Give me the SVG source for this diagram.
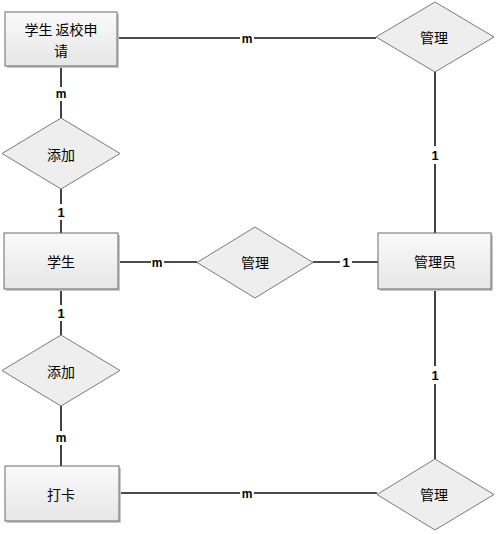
<svg xmlns="http://www.w3.org/2000/svg" width="499" height="534" viewBox="0 0 499 534">
<defs>
<linearGradient id="g" x1="0" y1="0" x2="0" y2="1">
<stop offset="0" stop-color="#fafafa"/><stop offset="1" stop-color="#e6e6e6"/>
</linearGradient>
<style>
.box{fill:url(#g);stroke:#6a6a6a;stroke-width:1}
.sh{fill:#c8c8c8}
.dia{fill:#eeeeee;stroke:#7a7a7a;stroke-width:1}
.t{font-family:"Noto Sans CJK SC","Noto Sans",sans-serif;font-size:14px;fill:#000;text-anchor:middle;dominant-baseline:central}
.ln{stroke:#111;stroke-width:1.6;fill:none}
.lb{font-family:"Liberation Sans",Arial,sans-serif;font-size:13px;font-weight:bold;fill:#000;text-anchor:middle;dominant-baseline:central}
.lm{font-family:"Liberation Sans",Arial,sans-serif;font-size:12px;font-weight:bold;fill:#000;text-anchor:middle;dominant-baseline:central}
.lbg{fill:#fff}
</style>
</defs>
<rect width="499" height="534" fill="#fff"/>
<g id="connectors">
<line class="ln" x1="117" y1="38" x2="376" y2="38"/>
<line class="ln" x1="61" y1="66" x2="61" y2="118"/>
<line class="ln" x1="61" y1="189" x2="61" y2="233"/>
<line class="ln" x1="435" y1="72" x2="435" y2="233"/>
<line class="ln" x1="118" y1="262" x2="197" y2="262"/>
<line class="ln" x1="313" y1="262" x2="378" y2="262"/>
<line class="ln" x1="61" y1="289" x2="61" y2="335"/>
<line class="ln" x1="61" y1="406" x2="61" y2="466"/>
<line class="ln" x1="435" y1="289" x2="435" y2="459"/>
<line class="ln" x1="119" y1="493" x2="377" y2="493"/>
<rect class="lbg" x="240" y="33" width="14" height="11"/><text class="lm" x="247" y="39">m</text>
<rect class="lbg" x="54" y="87" width="14" height="14"/><text class="lm" x="61" y="94">m</text>
<rect class="lbg" x="54" y="204" width="14" height="16"/><text class="lb" x="61" y="212">1</text>
<rect class="lbg" x="428" y="146" width="14" height="18"/><text class="lb" x="435" y="155">1</text>
<rect class="lbg" x="151" y="257" width="13" height="10"/><text class="lm" x="157" y="263">m</text>
<rect class="lbg" x="340" y="255" width="12" height="14"/><text class="lb" x="346" y="262">1</text>
<rect class="lbg" x="54" y="305" width="14" height="16"/><text class="lb" x="61" y="313">1</text>
<rect class="lbg" x="428" y="366" width="14" height="18"/><text class="lb" x="435" y="375">1</text>
<rect class="lbg" x="54" y="431" width="14" height="14"/><text class="lm" x="61" y="438">m</text>
<rect class="lbg" x="240" y="488" width="14" height="11"/><text class="lm" x="247" y="494">m</text>
</g>
<g id="n_apply">
<rect class="sh" x="7" y="14" width="112" height="54"/>
<rect class="box" x="5" y="12" width="112" height="54"/>
<text class="t" x="61" y="29">学生 返校申</text>
<text class="t" x="61" y="50">请</text>
</g>
<g id="n_add1">
<polygon class="dia" points="61,118 120,153.5 61,189 2,153.5"/>
<text class="t" x="61" y="154">添加</text>
</g>
<g id="n_manage1">
<polygon class="dia" points="435,2 494,37 435,72 376,37"/>
<text class="t" x="434" y="37">管理</text>
</g>
<g id="n_student">
<rect class="sh" x="6" y="235" width="114" height="56"/>
<rect class="box" x="4" y="233" width="114" height="56"/>
<text class="t" x="61" y="261">学生</text>
</g>
<g id="n_manage2">
<polygon class="dia" points="255,227 313,262.5 255,298 197,262.5"/>
<text class="t" x="255" y="262">管理</text>
</g>
<g id="n_admin">
<rect class="sh" x="380" y="235" width="113" height="56"/>
<rect class="box" x="378" y="233" width="113" height="56"/>
<text class="t" x="435" y="261">管理员</text>
</g>
<g id="n_add2">
<polygon class="dia" points="61,335 120,370.5 61,406 2,370.5"/>
<text class="t" x="61" y="371">添加</text>
</g>
<g id="n_checkin">
<rect class="sh" x="7" y="468" width="114" height="55"/>
<rect class="box" x="5" y="466" width="114" height="55"/>
<text class="t" x="61" y="494">打卡</text>
</g>
<g id="n_manage3">
<polygon class="dia" points="435,459 494,494.5 435,530 377,494.5"/>
<text class="t" x="434" y="494">管理</text>
</g>
</svg>
